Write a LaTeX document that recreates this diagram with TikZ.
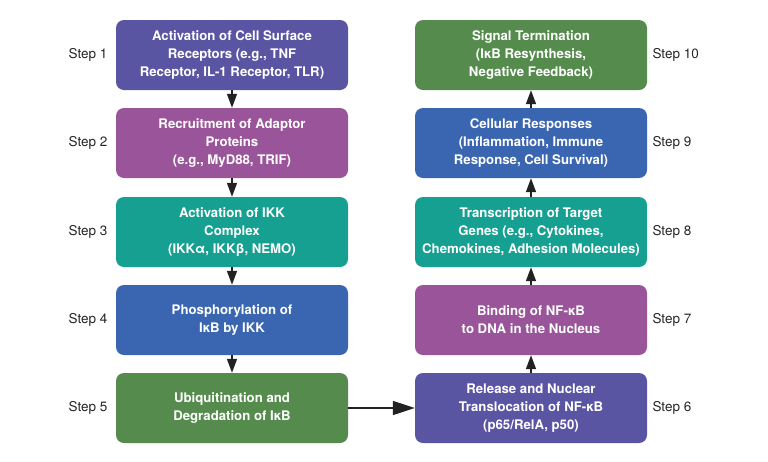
\documentclass[tikz,border=0pt]{standalone}
\usepackage{fontspec}
\setmainfont{TeX Gyre Heros}
\usetikzlibrary{arrows.meta}
\definecolor{cA}{HTML}{5A55A3}
\definecolor{cB}{HTML}{9A549A}
\definecolor{cC}{HTML}{16A091}
\definecolor{cD}{HTML}{3A65B0}
\definecolor{cE}{HTML}{558B4D}
\definecolor{cAr}{HTML}{222222}
\begin{document}
\begin{tikzpicture}[x=1pt,y=-1pt,
 box/.style={draw=none,fill=#1,rounded corners=8pt,minimum width=232pt,minimum height=70pt,inner sep=2pt,
   text=white,align=center,font=\fontsize{13.2}{18}\selectfont\bfseries},
 lab/.style={font=\fontsize{13.5}{15}\selectfont,text=black!85},
 arr/.style={draw=cAr,line width=1.5pt,-{Triangle[width=10pt,length=14pt]}}]
\useasboundingbox (0,0) rectangle (768,461);
\node[box=cA] (b1) at (232,55) {Activation of Cell Surface\\Receptors (e.g., TNF\\Receptor, IL-1 Receptor, TLR)};
\node[box=cB] (b2) at (232,143) {Recruitment of Adaptor\\Proteins\\(e.g., MyD88, TRIF)};
\node[box=cC] (b3) at (232,232) {Activation of IKK\\Complex\\(IKKα, IKKβ, NEMO)};
\node[box=cD] (b4) at (232,320) {Phosphorylation of\\IκB by IKK};
\node[box=cE] (b5) at (232,408) {Ubiquitination and\\Degradation of IκB};
\node[box=cA] (b6) at (531,408) {Release and Nuclear\\Translocation of NF-κB\\(p65/RelA, p50)};
\node[box=cB] (b7) at (531,320) {Binding of NF-κB\\to DNA in the Nucleus};
\node[box=cC] (b8) at (531,232) {Transcription of Target\\Genes (e.g., Cytokines,\\Chemokines, Adhesion Molecules)};
\node[box=cD] (b9) at (531,143) {Cellular Responses\\(Inflammation, Immune\\Response, Cell Survival)};
\node[box=cE] (b10) at (531,55) {Signal Termination\\(IκB Resynthesis,\\Negative Feedback)};
\node[lab,anchor=east] (s1) at (111,55) {Step 1};
\node[lab,anchor=east] (s2) at (111,143) {Step 2};
\node[lab,anchor=east] (s3) at (111,232) {Step 3};
\node[lab,anchor=east] (s4) at (111,320) {Step 4};
\node[lab,anchor=east] (s5) at (111,408) {Step 5};
\node[lab,anchor=west] (s6) at (649,408) {Step 6};
\node[lab,anchor=west] (s7) at (649,320) {Step 7};
\node[lab,anchor=west] (s8) at (649,232) {Step 8};
\node[lab,anchor=west] (s9) at (649,143) {Step 9};
\node[lab,anchor=west] (s10) at (649,55) {Step 10};
\draw[arr] (b1.south) -- (b2.north);
\draw[arr] (b2.south) -- (b3.north);
\draw[arr] (b3.south) -- (b4.north);
\draw[arr] (b4.south) -- (b5.north);
\draw[arr,-{Triangle[width=14pt,length=22pt]}] (b5.east) -- (b6.west);
\draw[arr] (b6.north) -- (b7.south);
\draw[arr] (b7.north) -- (b8.south);
\draw[arr] (b8.north) -- (b9.south);
\draw[arr] (b9.north) -- (b10.south);
\end{tikzpicture}
\end{document}
